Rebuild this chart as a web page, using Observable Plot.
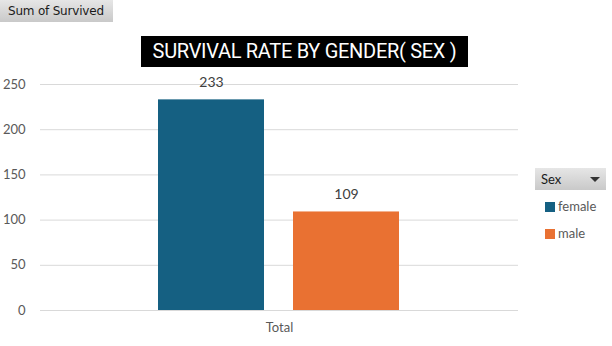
<!DOCTYPE html>
<html>
<head>
<meta charset="utf-8">
<script src="https://cdn.jsdelivr.net/npm/d3@7"></script>
<script src="https://cdn.jsdelivr.net/npm/@observablehq/plot@0.6"></script>
<style>
  body { margin: 0; background: #fff; }
  #wrap { position: relative; width: 612px; height: 346px; overflow: hidden; font-family: Lato, "Open Sans", sans-serif; }
  #wrap svg { position: absolute; left: 0; top: 0; }
  .btn { position: absolute; background: linear-gradient(#e6e6e6, #c9c9c9); color: #1a1a1a; box-sizing: border-box; }
  #field { left: 0; top: 0; width: 113px; height: 22px; font: 12px "DejaVu Sans", sans-serif; line-height: 22px; padding-left: 8px; letter-spacing: -0.2px; }
  #title { position: absolute; left: 141px; top: 36px; width: 327px; height: 31px; background: #000; color: #fff; font: 20px Roboto, sans-serif; line-height: 31px; text-align: center; white-space: nowrap; letter-spacing: -0.3px; }
  #legendHead { left: 535px; top: 168px; width: 71px; height: 22px; font: 13px Lato, sans-serif; line-height: 22px; padding-left: 6px; }
  #legendHead .arrow { position: absolute; right: 6px; top: 9px; width: 0; height: 0; border-left: 5px solid transparent; border-right: 5px solid transparent; border-top: 5px solid #333; }
  .item { position: absolute; left: 545px; font: 13px Lato, sans-serif; color: #595959; line-height: 14px; }
  .item span.sw { display: inline-block; width: 10px; height: 10px; margin-right: 3px; vertical-align: -1px; }
</style>
</head>
<body>
<div id="wrap"></div>
<script>
const group = ["Total"];
const sexes = ["female", "male"];
const survived = [233, 109];
const colors = ["#156082", "#E97132"];
const yTicks = [0, 50, 100, 150, 200, 250];
const title = "SURVIVAL RATE BY GENDER( SEX )";
const fieldName = "Sum of Survived";
const legendTitle = "Sex";

const data = sexes.map((s, i) => ({group: group[0], sex: s, value: survived[i]}));

const chart = Plot.plot({
  width: 612,
  height: 346,
  marginLeft: 40,
  marginRight: 94,
  marginTop: 84,
  marginBottom: 36,
  style: {fontFamily: "Lato, 'Open Sans', sans-serif", background: "transparent"},
  fx: {domain: group, padding: 0, label: null, axis: null},
  x: {domain: sexes, paddingInner: 0.213, paddingOuter: 0.864, axis: null},
  y: {domain: [0, 250], ticks: yTicks, label: null},
  color: {domain: sexes, range: colors},
  marks: [
    Plot.gridY(yTicks, {stroke: "#d9d9d9", strokeOpacity: 1}),
    Plot.axisY({ticks: yTicks, tickSize: 0, tickPadding: 15, fontSize: 13, fill: "#595959", label: null}),
    Plot.axisFx({anchor: "bottom", tickSize: 0, tickPadding: 12, fontSize: 13, fill: "#595959", label: null}),
    Plot.barY(data, {fx: "group", x: "sex", y: "value", fill: "sex"}),
    Plot.text(data, {fx: "group", x: "sex", y: "value", text: d => String(d.value), dy: -17, fontSize: 14, fill: "#404040"})
  ]
});

const wrap = document.getElementById("wrap");
wrap.appendChild(chart);

const f = document.createElement("div");
f.className = "btn"; f.id = "field"; f.textContent = fieldName;
wrap.appendChild(f);

const t = document.createElement("div");
t.id = "title"; t.textContent = title;
wrap.appendChild(t);

const lh = document.createElement("div");
lh.className = "btn"; lh.id = "legendHead"; lh.textContent = legendTitle;
const ar = document.createElement("div"); ar.className = "arrow"; lh.appendChild(ar);
wrap.appendChild(lh);

sexes.forEach((s, i) => {
  const it = document.createElement("div");
  it.className = "item";
  it.style.top = (199 + i * 27) + "px";
  const sw = document.createElement("span");
  sw.className = "sw"; sw.style.background = colors[i];
  it.appendChild(sw);
  it.appendChild(document.createTextNode(s));
  wrap.appendChild(it);
});
</script>
</body>
</html>
